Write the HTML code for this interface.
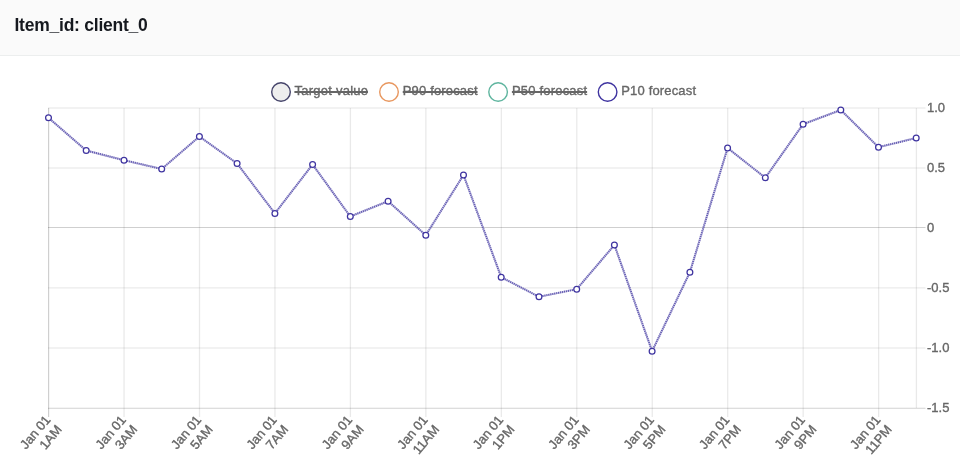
<!DOCTYPE html>
<html><head><meta charset="utf-8"><title>Item_id: client_0</title>
<style>
html,body{margin:0;padding:0;background:#fff;}
body{width:960px;height:466px;position:relative;overflow:hidden;font-family:"Liberation Sans",sans-serif;}
.hdr{will-change:transform;position:absolute;left:0;top:0;width:960px;height:55px;background:#fafafa;border-bottom:1px solid #eceeee;}
.hdr h2{margin:0;position:absolute;left:14.5px;top:14.5px;font-size:17.5px;letter-spacing:-0.24px;line-height:20px;font-weight:bold;color:#16191f;white-space:nowrap;}
</style></head><body>
<div class="hdr"><h2>Item_id: client_0</h2></div>
<svg width="960" height="410" viewBox="0 56 960 410" style="position:absolute;left:0;top:56px;will-change:transform" font-family="'Liberation Sans', sans-serif">
<line x1="48.60" y1="108" x2="48.60" y2="417" stroke="#000" stroke-opacity="0.19" stroke-width="1.2"/>
<line x1="124.06" y1="108" x2="124.06" y2="417" stroke="#000" stroke-opacity="0.088" stroke-width="1.3"/>
<line x1="199.51" y1="108" x2="199.51" y2="417" stroke="#000" stroke-opacity="0.088" stroke-width="1.3"/>
<line x1="274.97" y1="108" x2="274.97" y2="417" stroke="#000" stroke-opacity="0.088" stroke-width="1.3"/>
<line x1="350.42" y1="108" x2="350.42" y2="417" stroke="#000" stroke-opacity="0.088" stroke-width="1.3"/>
<line x1="425.88" y1="108" x2="425.88" y2="417" stroke="#000" stroke-opacity="0.088" stroke-width="1.3"/>
<line x1="501.34" y1="108" x2="501.34" y2="417" stroke="#000" stroke-opacity="0.088" stroke-width="1.3"/>
<line x1="576.79" y1="108" x2="576.79" y2="417" stroke="#000" stroke-opacity="0.088" stroke-width="1.3"/>
<line x1="652.25" y1="108" x2="652.25" y2="417" stroke="#000" stroke-opacity="0.088" stroke-width="1.3"/>
<line x1="727.70" y1="108" x2="727.70" y2="417" stroke="#000" stroke-opacity="0.088" stroke-width="1.3"/>
<line x1="803.16" y1="108" x2="803.16" y2="417" stroke="#000" stroke-opacity="0.088" stroke-width="1.3"/>
<line x1="878.62" y1="108" x2="878.62" y2="417" stroke="#000" stroke-opacity="0.088" stroke-width="1.3"/>
<line x1="916.4" y1="108" x2="916.4" y2="408" stroke="#000" stroke-opacity="0.088" stroke-width="1.3"/>
<line x1="48" y1="108" x2="925.5" y2="108" stroke="#000" stroke-opacity="0.1" stroke-width="1"/>
<text x="927" y="112.1" font-size="13" fill="#666" stroke="#666" stroke-width="0.35">1.0</text>
<line x1="48" y1="168" x2="925.5" y2="168" stroke="#000" stroke-opacity="0.1" stroke-width="1"/>
<text x="927" y="172.1" font-size="13" fill="#666" stroke="#666" stroke-width="0.35">0.5</text>
<line x1="48" y1="227.5" x2="925.5" y2="227.5" stroke="#000" stroke-opacity="0.19" stroke-width="1"/>
<text x="927" y="231.6" font-size="13" fill="#666" stroke="#666" stroke-width="0.35">0</text>
<line x1="48" y1="287.9" x2="925.5" y2="287.9" stroke="#000" stroke-opacity="0.1" stroke-width="1"/>
<text x="927" y="292.0" font-size="13" fill="#666" stroke="#666" stroke-width="0.35">-0.5</text>
<line x1="48" y1="348" x2="925.5" y2="348" stroke="#000" stroke-opacity="0.1" stroke-width="1"/>
<text x="927" y="352.1" font-size="13" fill="#666" stroke="#666" stroke-width="0.35">-1.0</text>
<line x1="48" y1="408.25" x2="925.5" y2="408.25" stroke="#000" stroke-opacity="0.18" stroke-width="1"/>
<text x="927" y="412.35" font-size="13" fill="#666" stroke="#666" stroke-width="0.35">-1.5</text>
<g transform="translate(46.5,416.3) rotate(-50)"><text font-size="13" fill="#666" stroke="#666" stroke-width="0.35" text-anchor="end"><tspan x="0" y="6">Jan 01</tspan><tspan x="0" y="21">1AM</tspan></text></g>
<g transform="translate(122.0,416.3) rotate(-50)"><text font-size="13" fill="#666" stroke="#666" stroke-width="0.35" text-anchor="end"><tspan x="0" y="6">Jan 01</tspan><tspan x="0" y="21">3AM</tspan></text></g>
<g transform="translate(197.4,416.3) rotate(-50)"><text font-size="13" fill="#666" stroke="#666" stroke-width="0.35" text-anchor="end"><tspan x="0" y="6">Jan 01</tspan><tspan x="0" y="21">5AM</tspan></text></g>
<g transform="translate(272.9,416.3) rotate(-50)"><text font-size="13" fill="#666" stroke="#666" stroke-width="0.35" text-anchor="end"><tspan x="0" y="6">Jan 01</tspan><tspan x="0" y="21">7AM</tspan></text></g>
<g transform="translate(348.3,416.3) rotate(-50)"><text font-size="13" fill="#666" stroke="#666" stroke-width="0.35" text-anchor="end"><tspan x="0" y="6">Jan 01</tspan><tspan x="0" y="21">9AM</tspan></text></g>
<g transform="translate(423.8,416.3) rotate(-50)"><text font-size="13" fill="#666" stroke="#666" stroke-width="0.35" text-anchor="end"><tspan x="0" y="6">Jan 01</tspan><tspan x="0" y="21">11AM</tspan></text></g>
<g transform="translate(499.2,416.3) rotate(-50)"><text font-size="13" fill="#666" stroke="#666" stroke-width="0.35" text-anchor="end"><tspan x="0" y="6">Jan 01</tspan><tspan x="0" y="21">1PM</tspan></text></g>
<g transform="translate(574.7,416.3) rotate(-50)"><text font-size="13" fill="#666" stroke="#666" stroke-width="0.35" text-anchor="end"><tspan x="0" y="6">Jan 01</tspan><tspan x="0" y="21">3PM</tspan></text></g>
<g transform="translate(650.1,416.3) rotate(-50)"><text font-size="13" fill="#666" stroke="#666" stroke-width="0.35" text-anchor="end"><tspan x="0" y="6">Jan 01</tspan><tspan x="0" y="21">5PM</tspan></text></g>
<g transform="translate(725.6,416.3) rotate(-50)"><text font-size="13" fill="#666" stroke="#666" stroke-width="0.35" text-anchor="end"><tspan x="0" y="6">Jan 01</tspan><tspan x="0" y="21">7PM</tspan></text></g>
<g transform="translate(801.1,416.3) rotate(-50)"><text font-size="13" fill="#666" stroke="#666" stroke-width="0.35" text-anchor="end"><tspan x="0" y="6">Jan 01</tspan><tspan x="0" y="21">9PM</tspan></text></g>
<g transform="translate(876.5,416.3) rotate(-50)"><text font-size="13" fill="#666" stroke="#666" stroke-width="0.35" text-anchor="end"><tspan x="0" y="6">Jan 01</tspan><tspan x="0" y="21">11PM</tspan></text></g>
<path d="M48.5,117.8 L86.2,150.5 L124.0,160.2 L161.7,169.0 L199.4,136.5 L237.1,163.5 L274.9,213.4 L312.6,164.5 L350.3,216.5 L388.1,201.2 L425.8,235.2 L463.5,175.0 L501.2,277.2 L539.0,296.8 L576.7,289.2 L614.4,245.0 L652.1,351.2 L689.9,272.2 L727.6,148.0 L765.3,177.8 L803.1,124.2 L840.8,110.0 L878.5,147.2 L916.2,138.0" fill="none" stroke="#3f34a0" stroke-width="2" stroke-opacity="0.3"/>
<path d="M48.5,117.8 L86.2,150.5 L124.0,160.2 L161.7,169.0 L199.4,136.5 L237.1,163.5 L274.9,213.4 L312.6,164.5 L350.3,216.5 L388.1,201.2 L425.8,235.2 L463.5,175.0 L501.2,277.2 L539.0,296.8 L576.7,289.2 L614.4,245.0 L652.1,351.2 L689.9,272.2 L727.6,148.0 L765.3,177.8 L803.1,124.2 L840.8,110.0 L878.5,147.2 L916.2,138.0" fill="none" stroke="#3f34a0" stroke-width="2" stroke-dasharray="1 1" stroke-opacity="0.75"/>
<circle cx="48.5" cy="117.8" r="2.9" fill="#fff" stroke="#3f34a0" stroke-width="1.25"/>
<circle cx="86.2" cy="150.5" r="2.9" fill="#fff" stroke="#3f34a0" stroke-width="1.25"/>
<circle cx="124.0" cy="160.2" r="2.9" fill="#fff" stroke="#3f34a0" stroke-width="1.25"/>
<circle cx="161.7" cy="169.0" r="2.9" fill="#fff" stroke="#3f34a0" stroke-width="1.25"/>
<circle cx="199.4" cy="136.5" r="2.9" fill="#fff" stroke="#3f34a0" stroke-width="1.25"/>
<circle cx="237.1" cy="163.5" r="2.9" fill="#fff" stroke="#3f34a0" stroke-width="1.25"/>
<circle cx="274.9" cy="213.4" r="2.9" fill="#fff" stroke="#3f34a0" stroke-width="1.25"/>
<circle cx="312.6" cy="164.5" r="2.9" fill="#fff" stroke="#3f34a0" stroke-width="1.25"/>
<circle cx="350.3" cy="216.5" r="2.9" fill="#fff" stroke="#3f34a0" stroke-width="1.25"/>
<circle cx="388.1" cy="201.2" r="2.9" fill="#fff" stroke="#3f34a0" stroke-width="1.25"/>
<circle cx="425.8" cy="235.2" r="2.9" fill="#fff" stroke="#3f34a0" stroke-width="1.25"/>
<circle cx="463.5" cy="175.0" r="2.9" fill="#fff" stroke="#3f34a0" stroke-width="1.25"/>
<circle cx="501.2" cy="277.2" r="2.9" fill="#fff" stroke="#3f34a0" stroke-width="1.25"/>
<circle cx="539.0" cy="296.8" r="2.9" fill="#fff" stroke="#3f34a0" stroke-width="1.25"/>
<circle cx="576.7" cy="289.2" r="2.9" fill="#fff" stroke="#3f34a0" stroke-width="1.25"/>
<circle cx="614.4" cy="245.0" r="2.9" fill="#fff" stroke="#3f34a0" stroke-width="1.25"/>
<circle cx="652.1" cy="351.2" r="2.9" fill="#fff" stroke="#3f34a0" stroke-width="1.25"/>
<circle cx="689.9" cy="272.2" r="2.9" fill="#fff" stroke="#3f34a0" stroke-width="1.25"/>
<circle cx="727.6" cy="148.0" r="2.9" fill="#fff" stroke="#3f34a0" stroke-width="1.25"/>
<circle cx="765.3" cy="177.8" r="2.9" fill="#fff" stroke="#3f34a0" stroke-width="1.25"/>
<circle cx="803.1" cy="124.2" r="2.9" fill="#fff" stroke="#3f34a0" stroke-width="1.25"/>
<circle cx="840.8" cy="110.0" r="2.9" fill="#fff" stroke="#3f34a0" stroke-width="1.25"/>
<circle cx="878.5" cy="147.2" r="2.9" fill="#fff" stroke="#3f34a0" stroke-width="1.25"/>
<circle cx="916.2" cy="138.0" r="2.9" fill="#fff" stroke="#3f34a0" stroke-width="1.25"/>
<circle cx="281" cy="92" r="9.3" fill="#eeeeee" stroke="#45446a" stroke-width="1.4"/>
<text x="294.4" y="95.3" font-size="13" fill="#666" stroke="#666" stroke-width="0.35" textLength="73.6" lengthAdjust="spacing">Target value</text>
<line x1="294.4" y1="92" x2="368.0" y2="92" stroke="#666" stroke-width="1.8"/>
<circle cx="389" cy="92" r="9.3" fill="#fff" stroke="#e8975f" stroke-width="1.4"/>
<text x="402.75" y="95.3" font-size="13" fill="#666" stroke="#666" stroke-width="0.35" textLength="74.75" lengthAdjust="spacing">P90 forecast</text>
<line x1="402.75" y1="92" x2="477.5" y2="92" stroke="#666" stroke-width="1.8"/>
<circle cx="498.1" cy="92" r="9.3" fill="#fff" stroke="#5fb59f" stroke-width="1.4"/>
<text x="511.9" y="95.3" font-size="13" fill="#666" stroke="#666" stroke-width="0.35" textLength="75.2" lengthAdjust="spacing">P50 forecast</text>
<line x1="511.9" y1="92" x2="587.1" y2="92" stroke="#666" stroke-width="1.8"/>
<circle cx="607.6" cy="92" r="9.3" fill="#fff" stroke="#3f34a0" stroke-width="1.4"/>
<text x="621.25" y="95.3" font-size="13" fill="#666" stroke="#666" stroke-width="0.35" textLength="74.75" lengthAdjust="spacing">P10 forecast</text>
</svg>
</body></html>
